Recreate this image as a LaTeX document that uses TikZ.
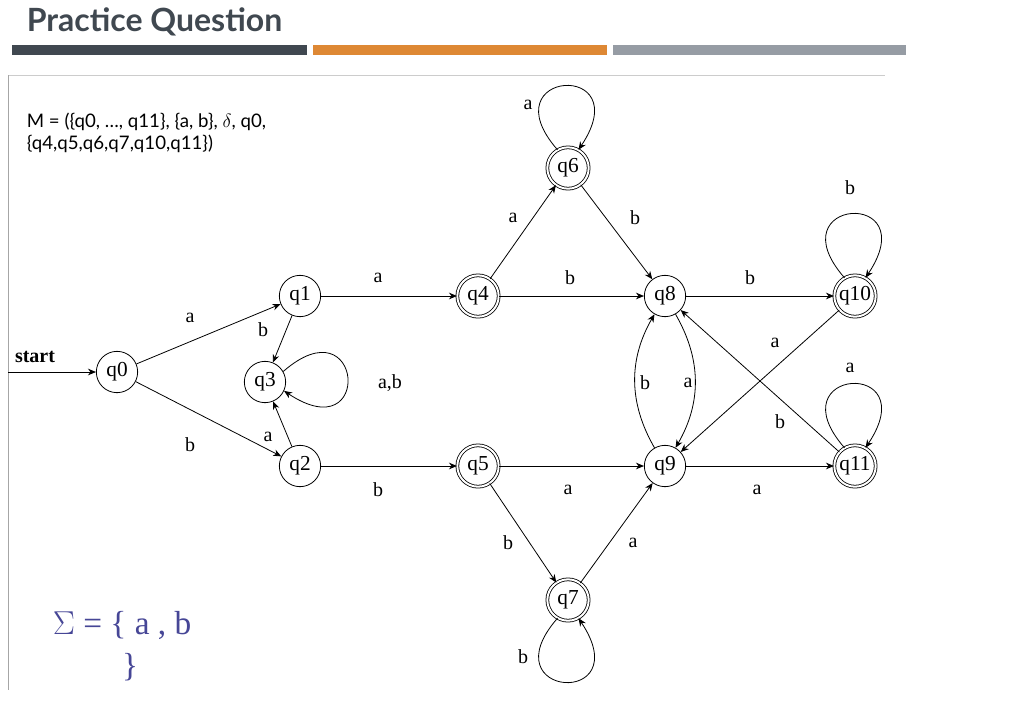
\documentclass[tikz,border=0pt]{standalone}
\usepackage{fontspec}
\setsansfont{Lato}
\setmainfont{Liberation Serif}
\usetikzlibrary{arrows.meta}
\definecolor{dk}{RGB}{64,72,80}
\definecolor{org}{RGB}{222,136,52}
\definecolor{gr}{RGB}{150,156,164}
\definecolor{sig}{RGB}{70,70,150}
\begin{document}
\begin{tikzpicture}[x=0.75pt,y=-0.75pt,
  st/.style={circle,draw,minimum size=31pt,inner sep=0pt,font=\fontsize{16}{18}\selectfont},
  acc/.style={st,double,double distance=1.5pt},
  lb/.style={font=\fontsize{15}{17}\selectfont},
  >={Stealth[length=6pt,width=5pt]}, every path/.style={line width=0.6pt}]
\useasboundingbox (0,0) rectangle (1024,711);
\fill[white] (0,0) rectangle (1024,711);
\node[font=\sffamily\bfseries\fontsize{24}{26}\selectfont,text=dk,anchor=west] (title) at (22,22) {Practice Question};
\fill[dk] (12,45) rectangle (307,55);
\fill[org] (313,45) rectangle (607,55);
\fill[gr] (613,45) rectangle (906,55);
\draw[gray!40] (8,75) -- (885,75);
\draw[gray!70] (8,75) -- (8,690);
\node[font=\sffamily\fontsize{14}{17}\selectfont,anchor=west,align=left] (M) at (22,133) {M = (\{q0, \dots, q11\}, \{a, b\}, $\delta$, q0,\\ \{q4,q5,q6,q7,q10,q11\})};
\node[text=sig,font=\fontsize{25}{27}\selectfont,anchor=west] (sig) at (48,625) {$\Sigma$ = \{ a , b};
\node[text=sig,font=\fontsize{25}{27}\selectfont] (br) at (130,667) {\}};
\node[st] (q0) at (117,372) {q0};
\node[st] (q1) at (300,296) {q1};
\node[st] (q3) at (265,382) {q3};
\node[st] (q2) at (300,466) {q2};
\node[acc] (q4) at (478,296) {q4};
\node[acc] (q5) at (478,466) {q5};
\node[acc] (q6) at (568,168) {q6};
\node[st] (q8) at (665,296) {q8};
\node[st] (q9) at (665,466) {q9};
\node[acc] (q7) at (568,600) {q7};
\node[acc] (q10) at (855,296) {q10};
\node[acc] (q11) at (855,466) {q11};
\coordinate (s) at (8,372);
\draw[->] (s) -- (q0);
\node[lb,font=\fontsize{15}{17}\selectfont\bfseries] (start) at (35,357) {start};
\draw[->] (q0) -- (q1); \node[lb] at (190,318) {a};
\draw[->] (q0) -- (q2); \node[lb] at (190,445) {b};
\draw[->] (q1) -- (q3); \node[lb] at (263,330) {b};
\draw[->] (q2) -- (q3); \node[lb] at (268,437) {a};
\draw[->] (q3.30) .. controls +(80,-70) and +(90,60) .. (q3.-25); \node[lb] at (390,383) {a,b};
\draw[->] (q1) -- (q4); \node[lb] at (378,278) {a};
\draw[->] (q2) -- (q5); \node[lb] at (378,490) {b};
\draw[->] (q4) -- (q6); \node[lb] at (513,218) {a};
\draw[->] (q4) -- (q8); \node[lb] at (570,278) {b};
\draw[->] (q6.120) .. controls +(-70,-80) and +(60,-90) .. (q6.60); \node[lb] at (528,105) {a};
\draw[->] (q6) -- (q8); \node[lb] at (635,218) {b};
\draw[->] (q5) -- (q9); \node[lb] at (568,490) {a};
\draw[->] (q5) -- (q7); \node[lb] at (508,543) {b};
\draw[->] (q7) -- (q9); \node[lb] at (633,543) {a};
\draw[->] (q7.-120) .. controls +(-70,80) and +(60,90) .. (q7.-60); \node[lb] at (523,657) {b};
\draw[->] (q8) -- (q10); \node[lb] at (750,278) {b};
\draw[->] (q10.120) .. controls +(-70,-80) and +(60,-90) .. (q10.60); \node[lb] at (850,188) {b};
\draw[->] (q8) to[bend left=30] (q9); \node[lb] at (688,383) {a};
\draw[->] (q9) to[bend left=30] (q8); \node[lb] at (645,383) {b};
\draw[->] (q10) -- (q9); \node[lb] at (775,343) {a};
\draw[->] (q11) -- (q8); \node[lb] at (780,422) {b};
\draw[->] (q9) -- (q11); \node[lb] at (757,490) {a};
\draw[->] (q11.120) .. controls +(-70,-80) and +(60,-90) .. (q11.60); \node[lb] at (850,368) {a};
\end{tikzpicture}
\end{document}
